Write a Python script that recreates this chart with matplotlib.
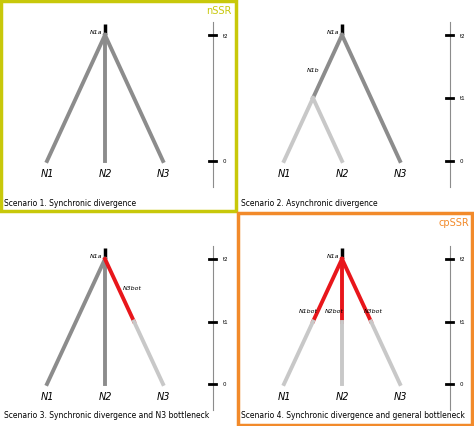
import matplotlib.pyplot as plt
from matplotlib.patches import Rectangle

# Scenario data (times relative to t2 = 1, t1 = 0.5)
T1, T2 = 0.5, 1.0
tips = ["N1", "N2", "N3"]
tip_pos = [-1.0, 0.0, 1.0]
captions = ["Scenario 1. Synchronic divergence",
            "Scenario 2. Asynchronic divergence",
            "Scenario 3. Synchronic divergence and N3 bottleneck",
            "Scenario 4. Synchronic divergence and general bottleneck"]
tick_labels = {1: ["0", "t2"], 2: ["0", "t1", "t2"], 3: ["0", "t1", "t2"], 4: ["0", "t1", "t2"]}
markers = {1: "nSSR", 4: "cpSSR"}

GRAY, LIGHT, RED = "#8c8c8c", "#c8c8c8", "#e8161b"
W, H = 474, 427

fig = plt.figure(figsize=(W / 100, H / 100), dpi=100)
ax = fig.add_axes([0, 0, 1, 1])
ax.set_xlim(0, W)
ax.set_ylim(H, 0)
ax.axis("off")

offsets = [(0, 0), (237, 0), (0, 212), (237, 212)]


def draw_panel(k, ox, oy):
    cx = ox + 105
    half = 58
    y0 = oy + 162 if k <= 2 else oy + 173
    y2 = oy + 36 if k <= 2 else oy + 48

    def Y(t):
        return y0 - t * (y0 - y2)

    def X(p, t=0.0, root_t=T2):
        # position along branch from root to tip p
        return cx + p * half * (root_t - t) / root_t

    lw = 2.8
    ax.plot([cx, cx], [Y(T2) - 11, Y(T2)], color="black", lw=2.5, solid_capstyle="butt")
    ax.text(cx - 3, Y(T2) - 4, "N1a", fontsize=4.5, style="italic", ha="right", va="center")
    if k == 1:
        for p in tip_pos:
            ax.plot([cx, X(p)], [Y(T2), Y(0)], color=GRAY, lw=lw)
    elif k == 2:
        bx = cx - half / 2
        ax.plot([cx, bx], [Y(T2), Y(T1)], color=GRAY, lw=lw)
        ax.plot([bx, cx - half], [Y(T1), Y(0)], color=LIGHT, lw=lw)
        ax.plot([bx, cx], [Y(T1), Y(0)], color=LIGHT, lw=lw)
        ax.plot([cx, cx + half], [Y(T2), Y(0)], color=GRAY, lw=lw)
        ax.text(bx, Y(0.73), "N1b", fontsize=4.5, style="italic", ha="center", va="center")
    else:
        for i, p in enumerate(tip_pos):
            bott = (k == 4) or (i == 2)
            if bott:
                ax.plot([cx, X(p, T1)], [Y(T2), Y(T1)], color=RED, lw=lw)
                ax.plot([X(p, T1), X(p)], [Y(T1), Y(0)], color=LIGHT, lw=lw)
            else:
                ax.plot([cx, X(p)], [Y(T2), Y(0)], color=GRAY, lw=lw)
        if k == 3:
            ax.text(cx + 18, Y(0.77), "N3bot", fontsize=4.5, style="italic", ha="left", va="center")
        else:
            for i, p in enumerate(tip_pos):
                ax.text(X(p, T1) + (2 if p >= 0 else 5), Y(T1) - 11,
                        f"N{i + 1}bot", fontsize=4.5, style="italic",
                        ha="right" if p <= 0 else "center", va="center")
    for name, p in zip(tips, tip_pos):
        ax.text(X(p), Y(0) + 12, name, fontsize=7, style="italic", ha="center", va="center")

    # time axis
    tx = ox + 213
    ax.plot([tx, tx], [Y(T2) - 13, Y(0) + 26], color=GRAY, lw=0.8)
    ts = [0, T2] if k == 1 else [0, T1, T2]
    for t, lab in zip(ts, tick_labels[k]):
        ax.plot([tx - 3.5, tx + 3.5], [Y(t), Y(t)], color="black", lw=2)
        ax.text(tx + 10, Y(t), lab, fontsize=4, ha="left", va="center")

    ax.text(ox + 4, oy + 204, captions[k - 1], fontsize=5.5, ha="left", va="center")


for k, (ox, oy) in enumerate(offsets, start=1):
    draw_panel(k, ox, oy)

ax.add_patch(Rectangle((1.5, 1.5), 235, 210, fill=False, ec="#c8c80a", lw=2.5))
ax.text(232, 11, markers[1], color="#c8c80a", fontsize=7, ha="right", va="center")
ax.add_patch(Rectangle((238.5, 213.5), 234, 212, fill=False, ec="#f28a2a", lw=2.5))
ax.text(469, 223, markers[4], color="#f28a2a", fontsize=7, ha="right", va="center")

fig.savefig("out.png", dpi=100)
